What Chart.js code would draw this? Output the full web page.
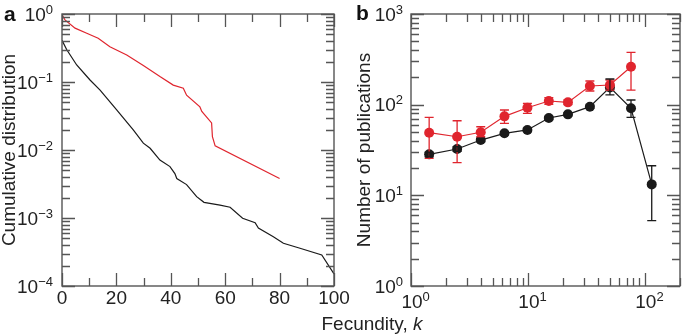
<!DOCTYPE html>
<html>
<head>
<meta charset="utf-8">
<script src="https://cdn.jsdelivr.net/npm/chart.js@4.4.1/dist/chart.umd.min.js"></script>
<style>
  html, body { margin: 0; padding: 0; background: #fff; }
  #wrap { position: relative; width: 685px; height: 335px; overflow: hidden; font-family: 'Liberation Sans', Arial, Helvetica, sans-serif; color: #222; }
  canvas { position: absolute; top: 0; }
  #ca { left: 0; }
  #cb { left: 340px; }
  .lab { position: absolute; font-weight: bold; font-size: 21px; line-height: 21px; color: #111; }
  #xt { position: absolute; left: 272px; width: 200px; text-align: center; top: 314px; font-size: 19px; line-height: 19px; color: #222; }
</style>
</head>
<body>
<div id="wrap">
  <canvas id="ca" width="360" height="335"></canvas>
  <canvas id="cb" width="345" height="335"></canvas>
  <div class="lab" style="left:4px; top:3px;">a</div>
  <div class="lab" style="left:356px; top:2px;">b</div>
  <div id="xt">Fecundity, <i>k</i></div>
</div>
<script>
// ---------- Panel a: cumulative distribution ----------
const redK   = [0, 1.1, 4.8, 9.1, 13.3, 17.6, 23.8, 29.9, 36, 40.9, 44.6, 45.8, 50.7, 51.4, 55.0, 55.3, 56.3, 80];
const redCum = [0.97, 0.82, 0.62, 0.52, 0.44, 0.33, 0.25, 0.175, 0.12, 0.09, 0.081, 0.064, 0.043, 0.037, 0.025, 0.0157, 0.0115, 0.0038];
const blackK   = [0, 1.7, 5.4, 10.3, 14, 20.1, 26.2, 29.9, 32.4, 36, 39.7, 41.5, 42.2, 45.8, 49.5, 52.2, 58.1, 61.8, 66.4, 71, 72.2, 77.7, 81.4, 87.5, 95.5, 100];
const blackCum = [0.41, 0.3, 0.178, 0.107, 0.076, 0.039, 0.0197, 0.0126, 0.0106, 0.0071, 0.0057, 0.0045, 0.0038, 0.0031, 0.00206, 0.0017, 0.00155, 0.00144, 0.00099, 0.00085, 0.00071, 0.00053, 0.000426, 0.000359, 0.000286, 0.000151];
const aXTicks = [0, 20, 40, 60, 80, 100];
const aYExps  = [-4, -3, -2, -1, 0];      // tick labels 10^-4 ... 10^0

// ---------- Panel b: number of publications ----------
const binK     = [1.43, 2.48, 3.95, 6.3, 9.9, 15.1, 22, 33.9, 50.3, 76.2, 114.6];
const blackPub = [28.3, 32.4, 40.7, 48.3, 52.6, 71.3, 78.2, 95, 155, 91.2, 13.2];
const blackLo  = [26.5, 30.5, 39, 46.5, 50.5, 68.5, 75.5, 91.5, 128, 72.6, 5.25];
const blackHi  = [30, 34.5, 42.5, 50, 55, 74, 81, 99, 192, 112.6, 21.2];
const redPub   = [49.1, 44.3, 49.6, 74.3, 92.6, 109.7, 106, 160.7, 164.8, 262.4];
const redLo    = [25.6, 22.9, 44.3, 62.3, 80.3, 100.9, 100, 141.5, 145, 145];
const redHi    = [72.5, 66.5, 57.1, 87.3, 103.5, 119.5, 113, 182.5, 187, 378];
const bXExps   = [0, 1, 2];               // tick labels 10^0 ... 10^2
const bYExps   = [0, 1, 2, 3];            // tick labels 10^0 ... 10^3

const RED = '#e0252e';
const BLACK = '#1a1a1a';
const AXIS = '#555';
const TXT = '#222';
const FONT = "'Liberation Sans', Arial, Helvetica, sans-serif";
Chart.defaults.font.family = FONT;
Chart.defaults.font.size = 19;
Chart.defaults.color = TXT;

function logTickList(minExp, maxExp, maxVal) {
  const out = [];
  for (let e = minExp; e <= maxExp; e++) {
    for (let m = 1; m <= 9; m++) {
      const v = m * Math.pow(10, e);
      if (v <= maxVal * 1.0000001) out.push({v, major: m === 1});
    }
  }
  return out;
}

const frameTicks = {
  id: 'frameTicks',
  afterDraw(chart, args, opts) {
    const {ctx, chartArea: a, scales} = chart;
    ctx.save();
    ctx.strokeStyle = AXIS;
    ctx.lineWidth = 1.3;
    ctx.beginPath();
    opts.x.forEach(t => {
      const px = Math.round(scales.x.getPixelForValue(t.v)) + 0.5;
      const len = t.major ? 13 : 8;
      ctx.moveTo(px, a.bottom); ctx.lineTo(px, a.bottom - len);
      ctx.moveTo(px, a.top); ctx.lineTo(px, a.top + len);
    });
    opts.y.forEach(t => {
      const py = Math.round(scales.y.getPixelForValue(t.v)) + 0.5;
      const len = t.major ? 13 : 8;
      ctx.moveTo(a.left, py); ctx.lineTo(a.left + len, py);
      ctx.moveTo(a.right, py); ctx.lineTo(a.right - len, py);
    });
    ctx.stroke();
    ctx.lineWidth = 1.4;
    ctx.strokeRect(a.left, a.top, a.right - a.left, a.bottom - a.top);

    // power-of-ten tick labels with real superscripts
    const BASE = 19, SUPF = 13, CAP = 0.716;
    function pow10(exp, x, yc, mode) {
      const base = '10';
      const e = String(exp).replace('-', '\u2212');
      ctx.font = BASE + 'px ' + FONT;
      const wb = ctx.measureText(base).width;
      ctx.font = SUPF + 'px ' + FONT;
      const we = ctx.measureText(e).width;
      let x0;
      if (mode === 'right') x0 = x - wb - we;
      else x0 = x - wb / 2;
      const baseLine = yc + BASE * CAP / 2;
      const supBase = yc - BASE * CAP / 2 - 3 + SUPF * CAP;
      ctx.fillStyle = TXT;
      ctx.textAlign = 'left';
      ctx.textBaseline = 'alphabetic';
      ctx.font = BASE + 'px ' + FONT;
      ctx.fillText(base, x0, baseLine);
      ctx.font = SUPF + 'px ' + FONT;
      ctx.fillText(e, x0 + wb, supBase);
    }
    if (opts.yExps) opts.yExps.forEach(ex => {
      pow10(ex, a.left - opts.yPad, scales.y.getPixelForValue(Math.pow(10, ex)), 'right');
    });
    if (opts.xExps) opts.xExps.forEach(ex => {
      pow10(ex, scales.x.getPixelForValue(Math.pow(10, ex)) + 1, a.bottom + opts.xOff, 'center');
    });
    ctx.restore();
  }
};

const errorBars = {
  id: 'errorBars',
  afterDatasetsDraw(chart) {
    const {ctx, scales: {x, y}} = chart;
    chart.data.datasets.forEach(ds => {
      if (!ds.errLo) return;
      ctx.save();
      ctx.strokeStyle = ds.borderColor;
      ctx.lineWidth = 1.3;
      ctx.beginPath();
      ds.data.forEach((p, i) => {
        const px = x.getPixelForValue(p.x);
        const y1 = y.getPixelForValue(ds.errLo[i]);
        const y2 = y.getPixelForValue(ds.errHi[i]);
        ctx.moveTo(px, y1); ctx.lineTo(px, y2);
        ctx.moveTo(px - 4.5, y1); ctx.lineTo(px + 4.5, y1);
        ctx.moveTo(px - 4.5, y2); ctx.lineTo(px + 4.5, y2);
      });
      ctx.stroke();
      ctx.restore();
    });
  }
};

const pts = (xs, ys) => ys.map((y, i) => ({x: xs[i], y}));

// Panel a
const aXT = [];
for (let v = 0; v <= 100; v += 10) aXT.push({v, major: v % 20 === 0});
new Chart(document.getElementById('ca'), {
  type: 'scatter',
  data: {
    datasets: [
      {data: pts(redK, redCum), showLine: true, borderColor: RED, borderWidth: 1.2, pointRadius: 0, tension: 0},
      {data: pts(blackK, blackCum), showLine: true, borderColor: BLACK, borderWidth: 1.2, pointRadius: 0, tension: 0}
    ]
  },
  options: {
    responsive: false, animation: false, devicePixelRatio: 1,
    layout: {padding: {left: 0, right: 26, top: 14, bottom: 0}},
    plugins: {legend: {display: false}, tooltip: {enabled: false},
      frameTicks: {x: aXT, y: logTickList(-4, 0, 1), yExps: aYExps, yPad: 9}},
    scales: {
      x: {
        type: 'linear', min: 0, max: 100,
        afterBuildTicks: s => { s.ticks = aXTicks.map(v => ({value: v})); },
        ticks: {padding: 1, maxRotation: 0, autoSkip: false, color: TXT},
        grid: {display: false, drawTicks: false}, border: {display: false},
        afterFit: s => { s.height = 49; }
      },
      y: {
        type: 'logarithmic', min: 1e-4, max: 1,
        ticks: {display: false},
        grid: {display: false, drawTicks: false}, border: {display: false},
        title: {display: true, text: 'Cumulative distribution', padding: {top: 0, bottom: 0}, font: {size: 19, lineHeight: 1}, color: TXT},
        afterFit: s => { s.width = 62; }
      }
    }
  },
  plugins: [frameTicks]
});

// Panel b
new Chart(document.getElementById('cb'), {
  type: 'scatter',
  data: {
    datasets: [
      {data: pts(binK, redPub), showLine: true, borderColor: RED, backgroundColor: RED, borderWidth: 1.2,
       pointRadius: 5, pointBorderWidth: 0, pointBackgroundColor: RED, order: 1, errLo: redLo, errHi: redHi},
      {data: pts(binK, blackPub), showLine: true, borderColor: BLACK, backgroundColor: BLACK, borderWidth: 1.2,
       pointRadius: 5, pointBorderWidth: 0, pointBackgroundColor: BLACK, order: 2, errLo: blackLo, errHi: blackHi}
    ]
  },
  options: {
    responsive: false, animation: false, devicePixelRatio: 1,
    layout: {padding: {left: 0, right: 2, top: 14, bottom: 0}},
    plugins: {legend: {display: false}, tooltip: {enabled: false},
      frameTicks: {x: logTickList(0, 2, 200), y: logTickList(0, 2, 1000).concat([{v: 1000, major: true}]),
                   xExps: bXExps, yExps: bYExps, yPad: 8, xOff: 15}},
    scales: {
      x: {
        type: 'logarithmic', min: 1, max: 200,
        ticks: {display: false},
        grid: {display: false, drawTicks: false}, border: {display: false},
        afterFit: s => { s.height = 49; }
      },
      y: {
        type: 'logarithmic', min: 1, max: 1000,
        ticks: {display: false},
        grid: {display: false, drawTicks: false}, border: {display: false},
        title: {display: true, text: 'Number of publications', padding: {top: 15.5, bottom: 0}, font: {size: 19, lineHeight: 1}, color: TXT},
        afterFit: s => { s.width = 71; }
      }
    }
  },
  plugins: [frameTicks, errorBars]
});
</script>
</body>
</html>
